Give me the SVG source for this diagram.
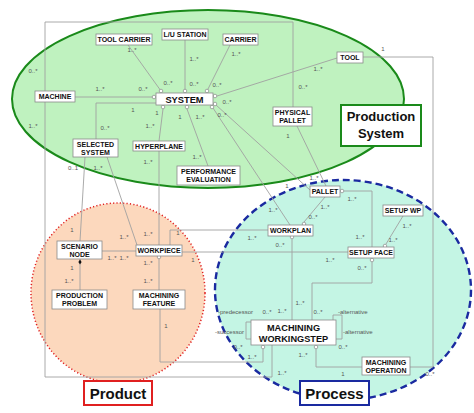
<svg xmlns="http://www.w3.org/2000/svg" width="474" height="413" viewBox="0 0 474 413">
<style>
.ln{fill:none;stroke:#a0a0a0;stroke-width:0.9}
.bx{fill:#fff;stroke:#8a8a8a;stroke-width:0.8}
.t{font-family:"Liberation Sans",Arial,sans-serif;font-weight:bold;font-size:7px;fill:#111;text-anchor:middle}
.m{font-family:"Liberation Sans",Arial,sans-serif;font-size:6px;fill:#555;text-anchor:middle}
.r{font-family:"Liberation Sans",Arial,sans-serif;font-size:6px;fill:#555}
.o{fill:#fff;stroke:#888;stroke-width:0.7}
.big{font-family:"Liberation Sans",Arial,sans-serif;font-weight:bold;fill:#111;text-anchor:middle}
</style>
<rect width="474" height="413" fill="#fff"/>
<g id="regions">
<ellipse cx="343" cy="290" rx="128" ry="110" fill="#c4f5e4" stroke="#1a2aa0" stroke-width="2.4" stroke-dasharray="7,4"/>
<ellipse cx="118" cy="293" rx="87" ry="90" fill="#fcd8bd" stroke="#e02020" stroke-width="1.5" stroke-dasharray="1.2,2.2"/>
<ellipse cx="208" cy="99" rx="196" ry="89" fill="#bff2bf" stroke="#1a8a1a" stroke-width="2"/>
</g>
<g id="connectors">
<path class="ln" d="M128,45 L161,91"/>
<path class="ln" d="M185,40 L185,91"/>
<path class="ln" d="M230,45 L207,91"/>
<path class="ln" d="M75,97 L154,97"/>
<path class="ln" d="M96,139 L96,103 L156,103"/>
<path class="ln" d="M163,109 L159,141"/>
<path class="ln" d="M159,151 L159,245"/>
<path class="ln" d="M159,259 L159,290"/>
<path class="ln" d="M187,109 L208,166"/>
<path class="ln" d="M217,96 L337,58"/>
<path class="ln" d="M213,108 L290,225"/>
<path class="ln" d="M216,105 L310,190"/>
<path class="ln" d="M297,126 L326,186"/>
<path class="ln" d="M293,107 L293,22 L45,22 L45,91"/>
<path class="ln" d="M45,102 L45,377 L272,377 L272,345"/>
<path class="ln" d="M363,57 L433,57 L433,367 L410,367"/>
<path class="ln" d="M344,191 L372,191 L372,247"/>
<path class="ln" d="M325,197 L304,222"/>
<path class="ln" d="M403,216 L386,244"/>
<path class="ln" d="M170,245 L170,230 L268,230"/>
<path class="ln" d="M182,252 L348,252"/>
<path class="ln" d="M292,239 L292,320"/>
<path class="ln" d="M372,262 L372,283 L312,283 L312,320"/>
<path class="ln" d="M160,309 L160,362 L263,362 L263,349"/>
<path class="ln" d="M316,349 L316,367 L362,367"/>
<path class="ln" d="M251,322 L246,322 L246,339 L251,339"/>
<path class="ln" d="M333,320 L333,315 L342,315 L342,339 L336,339"/>
<path class="ln" d="M85,157 L80,241"/>
<path class="ln" d="M107,157 L137,245"/>
<path class="ln" d="M102,251 L136,251"/>
<path class="ln" d="M80,259 L80,290"/>
<circle class="o" cx="161" cy="91" r="1.8"/>
<circle class="o" cx="185" cy="91" r="1.8"/>
<circle class="o" cx="207" cy="91" r="1.8"/>
<circle class="o" cx="154" cy="97" r="1.8"/>
<circle class="o" cx="163" cy="107" r="1.8"/>
<circle class="o" cx="187" cy="107" r="1.8"/>
<circle class="o" cx="215" cy="96" r="1.8"/>
<circle class="o" cx="215" cy="104" r="1.8"/>
<circle class="o" cx="212" cy="107" r="1.8"/>
<circle class="o" cx="342" cy="191" r="1.8"/>
<circle class="o" cx="304" cy="224" r="1.8"/>
<circle class="o" cx="292" cy="237" r="1.8"/>
<circle class="o" cx="385" cy="246" r="1.8"/>
<circle class="o" cx="372" cy="260" r="1.8"/>
<circle class="o" cx="159" cy="257" r="1.8"/>
<circle class="o" cx="263" cy="347" r="1.8"/>
<circle class="o" cx="316" cy="347" r="1.8"/>
<path d="M80,259.5 L81.6,262 L80,264.5 L78.4,262 Z" fill="#111"/>
</g>
<g id="labels">
<text class="m" x="132" y="52">1..*</text>
<text class="m" x="194" y="61">1..*</text>
<text class="m" x="236" y="56">1..*</text>
<text class="m" x="168" y="85">0..*</text>
<text class="m" x="194" y="86">0..*</text>
<text class="m" x="217" y="87">0..*</text>
<text class="m" x="100" y="91">1..*</text>
<text class="m" x="143" y="91">0..*</text>
<text class="m" x="33" y="73">0..*</text>
<text class="m" x="133" y="112">1</text>
<text class="m" x="157" y="115">1</text>
<text class="m" x="180" y="119">1</text>
<text class="m" x="200" y="119">1..*</text>
<text class="m" x="33" y="128">1..*</text>
<text class="m" x="105" y="130">0..*</text>
<text class="m" x="150" y="128">1..*</text>
<text class="m" x="227" y="104">0..*</text>
<text class="m" x="222" y="117">0..*</text>
<text class="m" x="383" y="51">1</text>
<text class="m" x="318" y="71">1..*</text>
<text class="m" x="303" y="89">0..*</text>
<text class="m" x="73" y="170">0..1</text>
<text class="m" x="98" y="170">1..*</text>
<text class="m" x="148" y="164">1..*</text>
<text class="m" x="197" y="159">1..*</text>
<text class="m" x="72" y="232">1</text>
<text class="m" x="124" y="239">1..*</text>
<text class="m" x="148" y="236">1..*</text>
<text class="m" x="178" y="235">1</text>
<text class="m" x="112" y="260">1..*</text>
<text class="m" x="124" y="260">1..*</text>
<text class="m" x="193" y="262">1</text>
<text class="m" x="288" y="138">1</text>
<text class="m" x="287" y="188">1</text>
<text class="m" x="314" y="180">1..*</text>
<text class="m" x="273" y="212">1..*</text>
<text class="m" x="352" y="201">1..*</text>
<text class="m" x="325" y="209">1..*</text>
<text class="m" x="313" y="219">0..*</text>
<text class="m" x="407" y="228">1..*</text>
<text class="m" x="393" y="242">1..*</text>
<text class="m" x="252" y="240">1..*</text>
<text class="m" x="280" y="247">0..*</text>
<text class="m" x="360" y="239">1..*</text>
<text class="m" x="330" y="262">1..*</text>
<text class="m" x="362" y="270">0..*</text>
<text class="m" x="72" y="270">1</text>
<text class="m" x="69" y="283">1..*</text>
<text class="m" x="148" y="265">1..*</text>
<text class="m" x="148" y="283">1..*</text>
<text class="m" x="166" y="328">1</text>
<text class="r" x="218" y="314">-predecessor</text>
<text class="r" x="215" y="334">-successor</text>
<text class="m" x="267" y="314">0..*</text>
<text class="m" x="282" y="313">1..*</text>
<text class="m" x="300" y="305">1..*</text>
<text class="m" x="318" y="314">0..*</text>
<text class="r" x="338" y="314">-alternative</text>
<text class="r" x="343" y="334">-alternative</text>
<text class="m" x="343" y="349">0..*</text>
<text class="m" x="303" y="357">1..*</text>
<text class="m" x="343" y="376">1</text>
<text class="m" x="430" y="376">0..*</text>
<text class="m" x="238" y="349">0..*</text>
<text class="m" x="252" y="359">1..*</text>
<text class="m" x="282" y="375">1..*</text>
</g>
<g id="tool-carrier"><rect class="bx" x="96" y="34" width="56" height="11"/><text class="t" x="124" y="42">TOOL CARRIER</text></g>
<g id="lu-station"><rect class="bx" x="162" y="29" width="46" height="11"/><text class="t" x="185" y="37">L/U STATION</text></g>
<g id="carrier"><rect class="bx" x="223" y="34" width="35" height="11"/><text class="t" x="240.5" y="42">CARRIER</text></g>
<g id="tool"><rect class="bx" x="337" y="52" width="26" height="11"/><text class="t" x="350" y="60">TOOL</text></g>
<g id="machine"><rect class="bx" x="35" y="91" width="40" height="11"/><text class="t" x="55" y="99">MACHINE</text></g>
<g id="system"><rect class="bx" x="156" y="93" width="57" height="12"/><text class="t" x="184.5" y="102.5" style="font-size:9.3px">SYSTEM</text></g>
<g id="physical-pallet"><rect class="bx" x="273" y="107" width="39" height="19"/><text class="t" x="292.5" y="115">PHYSICAL</text><text class="t" x="292.5" y="123">PALLET</text></g>
<g id="selected-system"><rect class="bx" x="73" y="139" width="45" height="18"/><text class="t" x="95.5" y="146.5">SELECTED</text><text class="t" x="95.5" y="154.5">SYSTEM</text></g>
<g id="hyperplane"><rect class="bx" x="133" y="141" width="52" height="10"/><text class="t" x="159" y="148.5">HYPERPLANE</text></g>
<g id="performance-evaluation"><rect class="bx" x="177" y="166" width="63" height="19"/><text class="t" x="208.5" y="174">PERFORMANCE</text><text class="t" x="208.5" y="182">EVALUATION</text></g>
<g id="pallet"><rect class="bx" x="310" y="186" width="30" height="11"/><text class="t" x="325" y="194">PALLET</text></g>
<g id="setup-wp"><rect class="bx" x="383" y="205" width="40" height="11"/><text class="t" x="403" y="213">SETUP WP</text></g>
<g id="workplan"><rect class="bx" x="268" y="225" width="45" height="11"/><text class="t" x="290.5" y="233">WORKPLAN</text></g>
<g id="setup-face"><rect class="bx" x="348" y="247" width="46" height="11"/><text class="t" x="371" y="255">SETUP FACE</text></g>
<g id="scenario-node"><rect class="bx" x="57" y="241" width="45" height="18"/><text class="t" x="79.5" y="248.5">SCENARIO</text><text class="t" x="79.5" y="256.5">NODE</text></g>
<g id="workpiece"><rect class="bx" x="136" y="245" width="46" height="11"/><text class="t" x="159" y="253">WORKPIECE</text></g>
<g id="production-problem"><rect class="bx" x="52" y="290" width="55" height="19"/><text class="t" x="79.5" y="298">PRODUCTION</text><text class="t" x="79.5" y="306">PROBLEM</text></g>
<g id="machining-feature"><rect class="bx" x="133" y="290" width="52" height="19"/><text class="t" x="159" y="298">MACHINING</text><text class="t" x="159" y="306">FEATURE</text></g>
<g id="machining-workingstep"><rect class="bx" x="251" y="320" width="85" height="25"/><text class="t" x="293.5" y="331" style="font-size:9.2px">MACHINING</text><text class="t" x="293.5" y="342" style="font-size:9.2px">WORKINGSTEP</text></g>
<g id="machining-operation"><rect class="bx" x="362" y="357" width="48" height="18"/><text class="t" x="386" y="364.5">MACHINING</text><text class="t" x="386" y="372.5">OPERATION</text></g>
<g id="production-system"><rect x="341" y="105" width="80" height="41" fill="#fff" stroke="#1a8a1a" stroke-width="2"/><text class="big" x="381" y="121" style="font-size:13px">Production</text><text class="big" x="381" y="138" style="font-size:13px">System</text></g>
<g id="product"><rect x="84" y="381" width="68" height="24" fill="#fff" stroke="#e02020" stroke-width="2"/><text class="big" x="118" y="398.5" style="font-size:15px">Product</text></g>
<g id="process"><rect x="300" y="381" width="69" height="24" fill="#fff" stroke="#1a2aa0" stroke-width="2"/><text class="big" x="334.5" y="398.5" style="font-size:15px">Process</text></g>
</svg>
